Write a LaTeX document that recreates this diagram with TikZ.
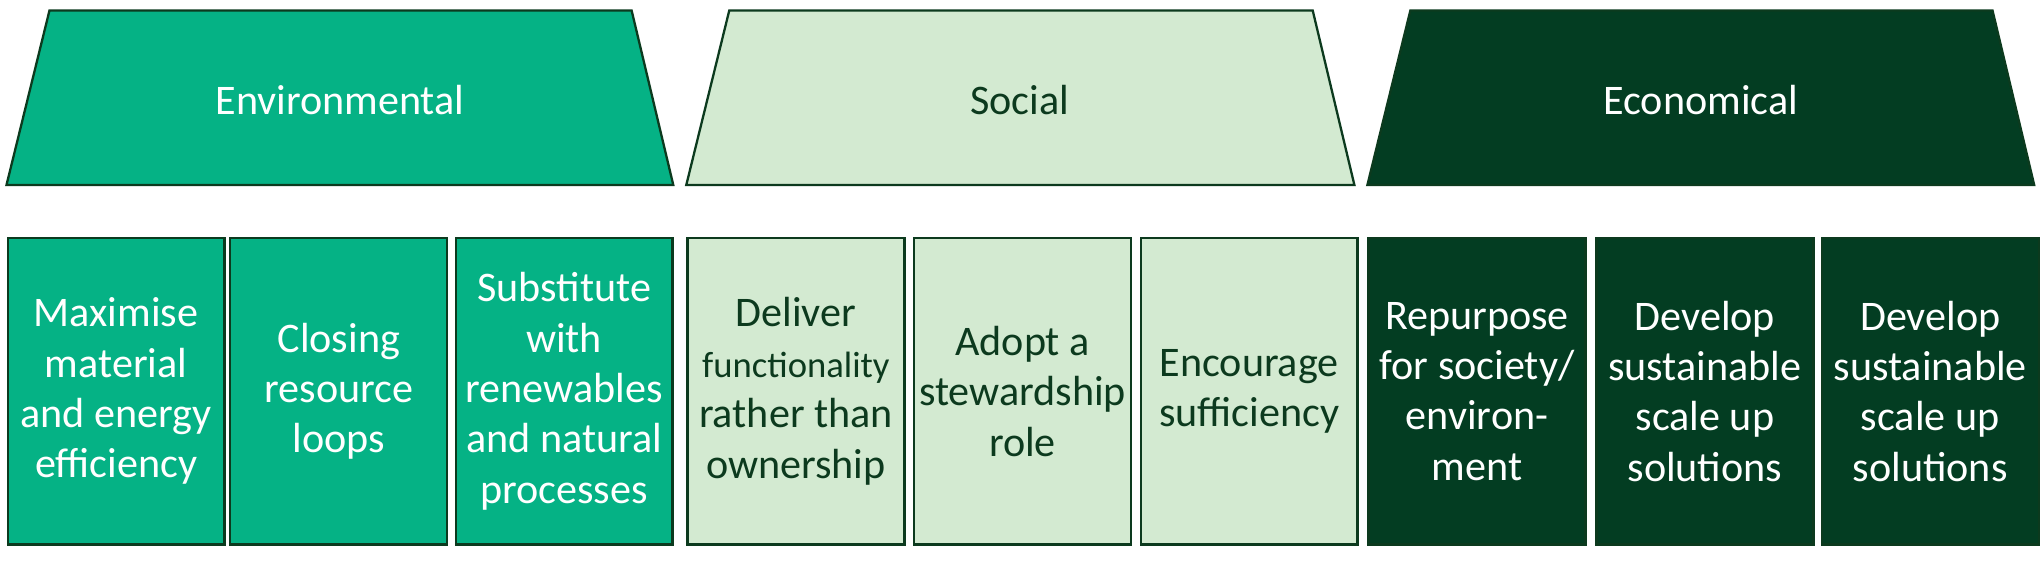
\documentclass[tikz,border=0pt]{standalone}
\usepackage{fontspec}
\setmainfont{Carlito}
\usetikzlibrary{positioning}
\definecolor{envgreen}{HTML}{05B285}
\definecolor{socgreen}{HTML}{D3EAD1}
\definecolor{ecogreen}{HTML}{033D22}
\definecolor{edgegreen}{HTML}{0C3A1E}
\tikzset{
  pillar/.style={draw=edgegreen, line width=.5pt},
  goal/.style={pillar, minimum width=1.665cm, minimum height=2.35cm,
    anchor=north west, align=center, inner sep=1pt, font=\fontsize{9.2}{11}\selectfont},
  env/.style={fill=envgreen, text=white},
  soc/.style={fill=socgreen, text=edgegreen},
  eco/.style={fill=ecogreen, text=white},
  head/.style={font=\fontsize{9.2}{11}\selectfont}
}
\begin{document}
\begin{tikzpicture}[x=0.01cm,y=-0.01cm]
\useasboundingbox (0,0) rectangle (1568,438);
% the three headers
\draw[pillar, env] (5,142) -- (38,8) -- (485,8) -- (517,142) -- cycle;
\node[head, text=white] (envhead) at (261,77) {Environmental};
\draw[pillar, soc] (527,142) -- (560,8) -- (1008,8) -- (1040,142) -- cycle;
\node[head, text=edgegreen] (sochead) at (783,77) {Social};
\draw[pillar, eco] (1050,142) -- (1083,8) -- (1530,8) -- (1562,142) -- cycle;
\node[head, text=white] (ecohead) at (1306,77) {Economical};
% the goals
\node[goal, env] (g1) at (5,182) {Maximise\\material\\and energy\\efficiency};
\node[goal, env] (g2) at (176,182) {Closing\\resource\\loops};
\node[goal, env] (g3) at (349,182) {Substitute\\with\\renewables\\and natural\\processes};
\node[goal, soc] (g4) at (527,182) {Deliver\\{\fontsize{8}{11}\selectfont functionality}\\rather than\\ownership};
\node[goal, soc] (g5) at (701,182) {Adopt a\\stewardship\\role};
\node[goal, soc] (g6) at (875,182) {Encourage\\sufficiency};
\node[goal, eco] (g7) at (1050,182) {Repurpose\\for society/\\environ-\\ment};
\node[goal, eco] (g8) at (1225,182) {Develop\\sustainable\\scale up\\solutions};
\node[goal, eco] (g9) at (1398,182) {Develop\\sustainable\\scale up\\solutions};
\end{tikzpicture}
\end{document}
